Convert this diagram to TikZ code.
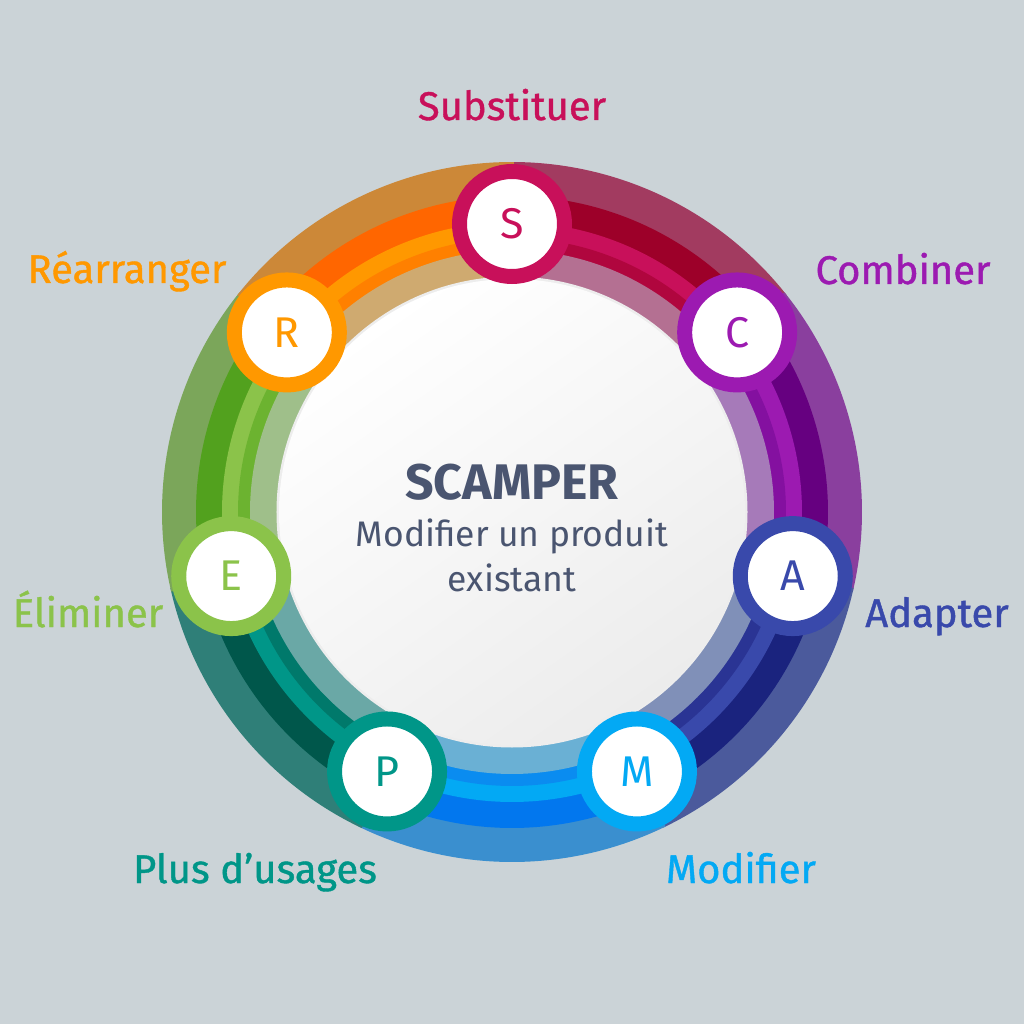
\documentclass[tikz,border=0pt]{standalone}
\usepackage{fontspec}
\setmainfont{Fira Sans}
\newfontfamily\labfont[FakeBold=1]{Fira Sans}
\definecolor{bg}{HTML}{CBD3D7}
\definecolor{txt}{HTML}{4A5570}
% S
\definecolor{Smut}{HTML}{A23B60}\definecolor{Sdrk}{HTML}{9D0029}\definecolor{Sbr}{HTML}{C8105A}\definecolor{Sin}{HTML}{B0063E}\definecolor{Slt}{HTML}{B47092}
% C
\definecolor{Cmut}{HTML}{8A3F9E}\definecolor{Cdrk}{HTML}{660080}\definecolor{Cbr}{HTML}{9C1AB1}\definecolor{Cin}{HTML}{8410A0}\definecolor{Clt}{HTML}{A67AB9}
% A
\definecolor{Amut}{HTML}{4B5A9C}\definecolor{Adrk}{HTML}{1A237E}\definecolor{Abr}{HTML}{3949AB}\definecolor{Ain}{HTML}{2A3494}\definecolor{Alt}{HTML}{8090B8}
% M
\definecolor{Mmut}{HTML}{3A8FCF}\definecolor{Mdrk}{HTML}{0277EE}\definecolor{Mbr}{HTML}{03A9F4}\definecolor{Min}{HTML}{0A8CF0}\definecolor{Mlt}{HTML}{6AB0D4}
% P
\definecolor{Pmut}{HTML}{2F7F78}\definecolor{Pdrk}{HTML}{00574B}\definecolor{Pbr}{HTML}{009688}\definecolor{Pin}{HTML}{00796B}\definecolor{Plt}{HTML}{6AA8A6}
% E
\definecolor{Emut}{HTML}{7BA65A}\definecolor{Edrk}{HTML}{52A11E}\definecolor{Ebr}{HTML}{8BC34A}\definecolor{Ein}{HTML}{6CB330}\definecolor{Elt}{HTML}{9FBF8A}
% R
\definecolor{Rmut}{HTML}{CC8838}\definecolor{Rdrk}{HTML}{FF6600}\definecolor{Rbr}{HTML}{FF9800}\definecolor{Rin}{HTML}{FF8000}\definecolor{Rlt}{HTML}{CFAA70}
\newcommand\ringseg[2]{%
  \pgfmathsetmacro\segA{#1+0.3}%
  \pgfmathsetmacro\segB{#1-51.4286-0.3}%
  \foreach \rr/\cc in {350/#2mut,316/#2drk,290/#2br,274/#2in,262/#2lt}{%
    \fill[\cc] (0,0) -- (\segA:\rr pt) arc[start angle=\segA,end angle=\segB,radius=\rr pt] -- cycle;}%
}
\tikzset{
  letter/.style={circle, draw=#1, line width=15pt, fill=white, minimum size=105pt, inner sep=0pt, text=#1, font=\fontsize{43}{43}\selectfont},
  lab/.style={text=#1, font=\labfont\fontsize{40}{40}\selectfont, inner sep=0pt, anchor=base}
}
\begin{document}
\begin{tikzpicture}
\useasboundingbox (-512pt,-512pt) rectangle (512pt,512pt);
\fill[bg] (-512pt,-512pt) rectangle (512pt,512pt);
\ringseg{90}{S}
\ringseg{38.5714}{C}
\ringseg{-12.8571}{A}
\ringseg{-64.2857}{M}
\ringseg{-115.7143}{P}
\ringseg{-167.1429}{E}
\ringseg{-218.5714}{R}
\fill[black!7] (0,0) circle[radius=235.5pt];
\shade[top color=white, bottom color={rgb,255:red,236;green,236;blue,236}, shading angle=35] (0,0) circle[radius=233pt];
\node[letter=Sbr] (S) at (90:288pt) {S};
\node[letter=Cbr] (C) at (38.5714:288pt) {C};
\node[letter=Abr] (A) at (-12.8571:288pt) {A};
\node[letter=Mbr] (M) at (-64.2857:288pt) {M};
\node[letter=Pbr] (P) at (-115.7143:288pt) {P};
\node[letter=Ebr] (E) at (-167.1429:288pt) {E};
\node[letter=Rbr] (R) at (141.4286:288pt) {R};
\node[lab=Sbr] (lS) at (0pt,392pt) {Substituer};
\node[lab=Cbr] (lC) at (391pt,228pt) {Combiner};
\node[lab=Abr] (lA) at (425pt,-115pt) {Adapter};
\node[lab=Mbr] (lM) at (229pt,-371pt) {Modifier};
\node[lab=Pbr] (lP) at (-257pt,-371pt) {Plus d’usages};
\node[lab=Ebr] (lE) at (-424pt,-115pt) {Éliminer};
\node[lab=Rbr] (lR) at (-385pt,229pt) {Réarranger};
\node[text=txt, font=\bfseries\fontsize{50}{50}\selectfont, anchor=base, inner sep=0pt] (title) at (0pt,12pt) {SCAMPER};
\node[text=txt, font=\fontsize{35.5}{45}\selectfont, anchor=base, inner sep=0pt] (sub1) at (0pt,-35pt) {Modifier un produit};
\node[text=txt, font=\fontsize{35.5}{45}\selectfont, anchor=base, inner sep=0pt] (sub2) at (0pt,-80pt) {existant};
\end{tikzpicture}
\end{document}
